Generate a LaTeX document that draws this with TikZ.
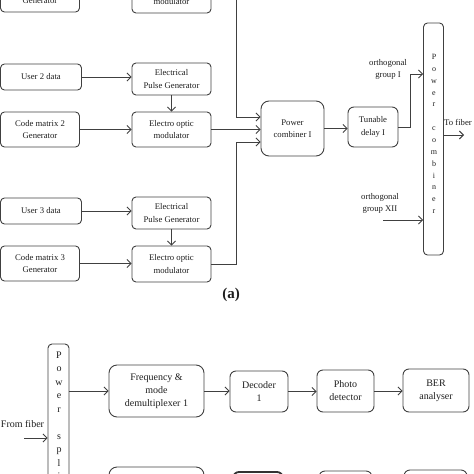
\documentclass[tikz,border=0pt]{standalone}
\usepackage{fontspec}
\setmainfont{Liberation Serif}
\usetikzlibrary{arrows.meta,calc}
\definecolor{ln}{HTML}{404040}
\definecolor{tx}{HTML}{1E1E1E}
\begin{document}
\begin{tikzpicture}[x=1pt,y=-1pt,
 box/.style={draw=ln,line width=0.9pt,rounded corners=4pt,inner sep=0pt,align=center,text=tx,font=\fontsize{8.7}{12.5}\selectfont},
 bigbox/.style={box,font=\fontsize{10}{13}\selectfont,rounded corners=6pt},
 arr/.style={draw=ln,line width=0.9pt,-{Straight Barb[length=4pt,width=8pt]}},
 lbl/.style={inner sep=0pt,align=center,text=tx,font=\fontsize{8.7}{12}\selectfont},
 letter/.style={inner sep=0pt,text=tx,anchor=base,font=\fontsize{8}{8}\selectfont},
 bletter/.style={inner sep=0pt,text=tx,anchor=base,font=\fontsize{10}{10}\selectfont}]
\useasboundingbox (0,0) rectangle (474,474);
\clip (0,0) rectangle (474,474);

% ---- transmitter ----
\node[box,minimum width=79pt,minimum height=35pt] (cm1) at (40,-5.5) {Code matrix 1\\Generator};
\node[box,minimum width=79pt,minimum height=35pt] (eom1) at (171.5,-4.5) {Electro optic\\modulator};

\node[box,minimum width=81pt,minimum height=26pt] (u2) at (41,77) {User 2 data};
\node[box,minimum width=79pt,minimum height=32pt] (epg2) at (171.5,79) {Electrical\\Pulse Generator};
\node[box,minimum width=79pt,minimum height=35pt] (cm2) at (40,129.5) {Code matrix 2\\Generator};
\node[box,minimum width=79pt,minimum height=35pt] (eom2) at (171.5,129.5) {Electro optic\\modulator};

\node[box,minimum width=81pt,minimum height=26pt] (u3) at (41,211) {User 3 data};
\node[box,minimum width=79pt,minimum height=32pt] (epg3) at (171.5,213) {Electrical\\Pulse Generator};
\node[box,minimum width=79pt,minimum height=35pt] (cm3) at (40,263.5) {Code matrix 3\\Generator};
\node[box,minimum width=79pt,minimum height=36pt] (eom3) at (171.5,264) {Electro optic\\modulator};

\node[box,rounded corners=8pt,minimum width=63pt,minimum height=55pt] (comb) at (292.5,128.5) {Power\\combiner I};
\node[box,rounded corners=6pt,minimum width=50pt,minimum height=40pt] (delay) at (373,127) {Tunable\\delay I};
\node[box,minimum width=20pt,minimum height=232pt] (pc) at (433.5,139) {};
\foreach \c [count=\i from 0] in {P,o,w,e,r}
  \node[letter] (pca\i) at (434,59.5+11.85*\i) {\c};
\foreach \c [count=\i from 0] in {c,o,m,b,i,n,e,r}
  \node[letter] (pcb\i) at (434,130.6+11.85*\i) {\c};

\draw[arr] (u2.east) -- (u2.east -| epg2.west);
\draw[arr] (cm2.east) -- (cm2.east -| eom2.west);
\draw[arr] (epg2.south) -- (eom2.north);
\draw[arr] (u3.east) -- (u3.east -| epg3.west);
\draw[arr] (cm3.east) -- (cm3.east -| eom3.west);
\draw[arr] (epg3.south) -- (eom3.north);

\draw[arr] (eom1.east) -| ([xshift=-24pt,yshift=11.5pt]comb.west) -- ([yshift=11.5pt]comb.west);
\draw[arr] (eom2.east) -- (eom2.east -| comb.west);
\draw[arr] (eom3.east) -| ([xshift=-24pt,yshift=-13.5pt]comb.west) -- ([yshift=-13.5pt]comb.west);
\draw[arr] (comb.east) -- (comb.east -| delay.west);
\draw[arr] (delay.east) -| ([xshift=-13pt,yshift=65pt]pc.west) -- ([yshift=65pt]pc.west);

\node[lbl] (og1) at (388,69) {orthogonal\\group I};
\node[lbl] (og12) at (380,203) {orthogonal\\group XII};
\coordinate (g12) at (383,220);
\draw[arr] (g12) -- (g12 -| pc.west);
\node[lbl] (tf) at (458,122) {To fiber};
\coordinate (tfend) at (464,135);
\draw[arr] ([yshift=4pt]pc.east) -- (tfend);

\node[inner sep=0pt,text=tx,font=\bfseries\fontsize{15}{15}\selectfont] (lbla) at (231,295) {(a)};

% ---- receiver ----
\node[box,minimum width=21pt,minimum height=200pt] (ps) at (58.5,444) {};
\foreach \c [count=\i from 0] in {P,o,w,e,r}
  \node[bletter] (psa\i) at (59,358+13.5*\i) {\c};
\foreach \c [count=\i from 0] in {s,p,l,i}
  \node[bletter] (psb\i) at (59,439+13.5*\i) {\c};

\node[lbl,font=\fontsize{10}{12}\selectfont] (fromfiber) at (22.5,424) {From fiber};
\coordinate (ff) at (24,438);
\draw[arr] (ff) -- (ff -| ps.west);

\node[bigbox,rounded corners=8pt,minimum width=95pt,minimum height=52pt] (dm1) at (156.5,391) {Frequency \&\\mode\\demultiplexer 1};
\node[bigbox,minimum width=58pt,minimum height=41pt] (dec1) at (259,391.5) {Decoder\\1};
\node[bigbox,minimum width=57pt,minimum height=42pt] (pd1) at (345.5,391) {Photo\\detector};
\node[bigbox,minimum width=66pt,minimum height=43pt] (ber1) at (436,390.5) {BER\\analyser};

\draw[arr] (dm1.west -| ps.east) -- (dm1.west);
\draw[arr] (dm1.east) -- (dm1.east -| dec1.west);
\draw[arr] (dec1.east) -- (dec1.east -| pd1.west);
\draw[arr] (pd1.east) -- (pd1.east -| ber1.west);

\node[bigbox,rounded corners=8pt,minimum width=95pt,minimum height=52pt] (dm2) at (156.5,493) {};
\node[bigbox,line width=1.8pt,draw=ln!80!black,minimum width=50pt,minimum height=41pt] (dec2) at (258,492.5) {};
\node[bigbox,minimum width=53pt,minimum height=41pt] (pd2) at (345.5,491.5) {};
\node[bigbox,minimum width=63pt,minimum height=41pt] (ber2) at (435.5,490.5) {};
\end{tikzpicture}
\end{document}
